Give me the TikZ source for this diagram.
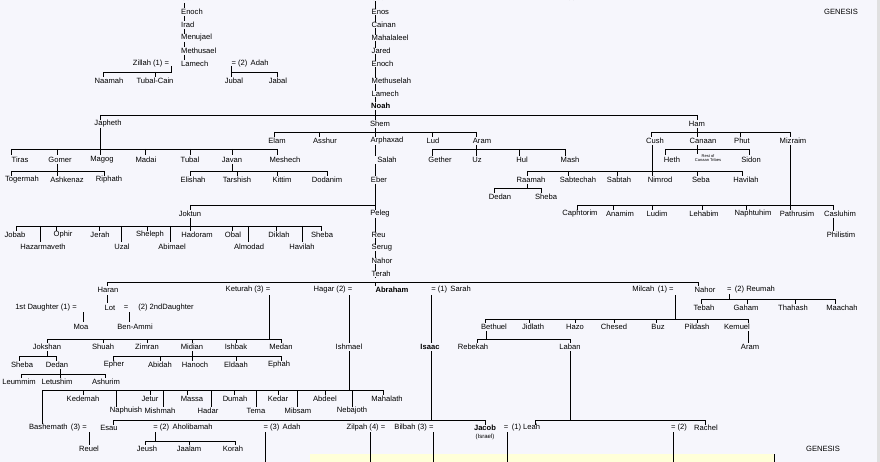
\documentclass[tikz,border=0pt]{standalone}
\usepackage{fontspec}
\setmainfont{Liberation Sans}
\definecolor{pagebg}{HTML}{F6F6FC}
\definecolor{band}{HTML}{FFFFD8}
\tikzset{
  nm/.style={font=\fontsize{7.6}{8}\selectfont, inner sep=0pt},
  bold/.style={nm, font=\fontsize{7.6}{8}\selectfont\bfseries},
  ln/.style={line width=0.8pt}
}
% a bar at height #1 from #2 to #3
\newcommand{\famBar}[3]{\draw[ln] (#2,#1) -- (#3,#1);}
\begin{document}
\begin{tikzpicture}[x=1pt,y=-1pt]
  \useasboundingbox (0,0) rectangle (880,462);
  \fill[pagebg] (0,0) rectangle (880,462);
  \fill[black!12] (877,0) rectangle (880,462);
  \fill[band] (310,454) rectangle (774,462);
  \draw[ln] (774,454) -- (774,462);

  \node[nm] (gen1) at (841,12) {GENESIS};
  \node[nm] (gen2) at (823,449) {GENESIS};
  \node[nm] (abel) at (570,-2) {Abel};

  % Cain line
  \node[nm,anchor=west] (cain) at (181,-2) {Cain};
  \foreach \y/\t in {12/Enoch,25/Irad,38/Menujael,51/Methusael,64/Lamech}
    \node[nm,anchor=west] (c\y) at (181,\y) {\t};
  \draw[ln] (184,3) -- (184,8) (184,16) -- (184,21) (184,29) -- (184,34) (184,42) -- (184,47) (184,55) -- (184,60);
  \node[nm] (zillah) at (151,64) {Zillah (1) =};
  \node[nm] (adah) at (250,64) {= (2)\, Adah};
  \draw[ln] (171,66) -- (171,72) -- (103,72) -- (103,77);
  \node[nm] (naamah) at (109,81) {Naamah};
  \node[nm] (tubalcain) at (155,81) {Tubal-Cain};
  \draw[ln] (155,72) -- (155,77);
  \draw[ln] (231,66) -- (231,77) (231,72) -- (277,72) -- (277,77);
  \node[nm] (jubal) at (234,81) {Jubal};
  \node[nm] (jabal) at (278,81) {Jabal};

  % Seth line
  \draw[ln] (375,0) -- (375,102);
  \node[nm,anchor=west,fill=pagebg,inner xsep=0.5pt] (seth) at (371,-2) {Seth};
  \foreach \y/\t in {12/Enos,25/Cainan,38/Mahalaleel,51/Jared,64/Enoch,81/Methuselah,94/Lamech}
    \node[nm,anchor=west,fill=pagebg,inner xsep=0.5pt] (s\y) at (371,\y) {\t};
  \node[bold,anchor=west] (noah) at (371,106) {Noah};

  % Noah's sons
  \famBar{115}{100}{697}
  \draw[ln] (375,110) -- (375,120) (100,115) -- (100,120) (697,115) -- (697,120);
  \node[nm] (japheth) at (108,124) {Japheth};
  \node[nm] (shem) at (380,124) {Shem};
  \node[nm] (ham) at (697,124) {Ham};

  % Japheth
  \draw[ln] (100,128) -- (100,149);
  \famBar{149}{11}{277}
  \foreach \x/\t/\c in {11/Tiras/20,57/Gomer/60,100/Magog/102,145/Madai/146,190/Tubal/190,232/Javan/232,277/Meshech/285}{
    \draw[ln] (\x,149) -- (\x,155);
    \node[nm] (j\x) at (\c,160) {\t};}
  \famBar{171}{11}{104}
  \draw[ln] (57,164) -- (57,171);
  \foreach \x/\t/\c in {11/Togermah/22,57/Ashkenaz/67,104/Riphath/109}{
    \draw[ln] (\x,171) -- (\x,176);
    \node[nm] (g\x) at (\c,180) {\t};}
  \famBar{171}{190}{327}
  \draw[ln] (232,164) -- (232,171);
  \foreach \x/\t/\c in {190/Elishah/193,237/Tarshish/237,277/Kittim/282,327/Dodanim/327}{
    \draw[ln] (\x,171) -- (\x,176);
    \node[nm] (v\x) at (\c,180) {\t};}

  % Shem
  \draw[ln] (375,128) -- (375,137);
  \famBar{132}{274}{476}
  \foreach \x/\t/\c in {274/Elam/277,319/Asshur/325,432/Lud/433,476/Aram/482}{
    \draw[ln] (\x,132) -- (\x,137);
    \node[nm] (sh\x) at (\c,141) {\t};}
  \node[nm] (arphaxad) at (387,141) {Arphaxad};
  \famBar{149}{432}{565}
  \draw[ln] (476,145) -- (476,156);
  \foreach \x/\t/\c in {432/Gether/440,476/Uz/477,519/Hul/522,565/Mash/570}{
    \draw[ln] (\x,149) -- (\x,156);
    \node[nm] (a\x) at (\c,160) {\t};}
  \draw[ln] (375,145) -- (375,156) (375,164) -- (375,176) (375,184) -- (375,205);
  \node[nm] (salah) at (387,160) {Salah};
  \node[nm] (eber) at (379,180) {Eber};

  % Ham
  \draw[ln] (697,128) -- (697,137);
  \famBar{132}{651}{790}
  \foreach \x/\t/\c in {651/Cush/655,740/Phut/742,790/Mizraim/793}{
    \draw[ln] (\x,132) -- (\x,137);
    \node[nm] (h\x) at (\c,141) {\t};}
  \node[nm] (canaan) at (703,141) {Canaan};
  \famBar{149}{665}{749}
  \draw[ln] (697,145) -- (697,154) (665,149) -- (665,155) (749,149) -- (749,155);
  \node[nm] (heth) at (672,160) {Heth};
  \node[nm,font=\fontsize{4}{4.5}\selectfont,align=center] (rest) at (708,158) {Rest of\\Canaan Tribes};
  \node[nm] (sidon) at (751,160) {Sidon};
  \draw[ln] (652,145) -- (652,176);
  \famBar{171}{527}{742}
  \foreach \x/\t/\c in {527/Raamah/531,568/Sabtechah/578,617/Sabtah/619,652/Nimrod/660,697/Seba/701,742/Havilah/746}{
    \draw[ln] (\x,171) -- (\x,176);
    \node[nm] (cu\x) at (\c,180) {\t};}
  \famBar{188}{494}{541}
  \draw[ln] (527,184) -- (527,188) (494,188) -- (494,193) (541,188) -- (541,193);
  \node[nm] (dedan1) at (500,197) {Dedan};
  \node[nm] (sheba1) at (546,197) {Sheba};
  \draw[ln] (790,145) -- (790,205);
  \famBar{205}{577}{833}
  \foreach \x/\t/\c in {577/Caphtorim/580,613/Anamim/620,652/Ludim/657,702/Lehabim/704,746/Naphtuhim/753,790/Pathrusim/797,833/Casluhim/840}{
    \draw[ln] (\x,205) -- (\x,210);
    \node[nm] (m\x) at (\c,214) {\t};}
  \draw[ln] (833,218) -- (833,231);
  \node[nm] (philistim) at (841,235) {Philistim};

  % Eber
  \famBar{205}{190}{375}
  \draw[ln] (190,205) -- (190,210) (375,205) -- (375,210);
  \node[nm] (joktun) at (190,214) {Joktun};
  \node[nm] (peleg) at (380,214) {Peleg};
  \draw[ln] (190,218) -- (190,226);
  \famBar{226}{16}{321}
  \foreach \x/\t/\c in {16/Jobab/15,56/Ophir/63,99/Jerah/100,147/Sheleph/150,190/Hadoram/197,232/Obal/233,276/Diklah/279,321/Sheba/322}{
    \draw[ln] (\x,226) -- (\x,231);
    \node[nm] (k\x) at (\c,235) {\t};}
  \foreach \x/\t/\c in {40/Hazarmaveth/43,121/Uzal/122,170/Abimael/172,248/Almodad/249,302/Havilah/302}{
    \draw[ln] (\x,226) -- (\x,242);
    \node[nm] (k\x) at (\c,247) {\t};}
  \draw[ln] (375,218) -- (375,278);
  \foreach \y/\t in {235/Reu,248/Serug,261/Nahor,274/Terah}
    \node[nm,anchor=west,fill=pagebg,inner xsep=0.5pt] (p\y) at (371,\y) {\t};

  % Terah
  \famBar{282}{107}{698}
  \draw[ln] (107,282) -- (107,286) (375,282) -- (375,286) (698,282) -- (698,286);
  \node[nm] (haran) at (108,290) {Haran};
  \node[nm] (keturah) at (248,290) {Keturah (3) =};
  \node[nm] (hagar) at (333,290) {Hagar (2) =};
  \node[bold] (abraham) at (392,290) {Abraham};
  \node[nm] (sarah) at (451,290) {= (1)\, Sarah};
  \node[nm] (milcah) at (653,290) {Milcah\, (1) =};
  \node[nm] (nahor2) at (705,290) {Nahor};
  \node[nm] (reumah) at (751,290) {= \,(2) Reumah};
  \draw[ln] (107,295) -- (107,303);
  \node[nm] (dau1) at (46,308) {1st Daughter (1) =};
  \node[nm] (lot) at (110,308) {Lot};
  \node[nm] (loteq) at (126,308) {=};
  \node[nm] (dau2) at (166,308) {(2) 2ndDaughter};
  \draw[ln] (83,312) -- (83,322) (129,312) -- (129,322);
  \node[nm] (moa) at (81,327) {Moa};
  \node[nm] (benammi) at (135,327) {Ben-Ammi};

  % Nahor and Reumah
  \famBar{299}{701}{835}
  \draw[ln] (729,294) -- (729,299);
  \foreach \x/\t/\c in {701/Tebah/704,747/Gaham/746,795/Thahash/793,835/Maachah/842}{
    \draw[ln] (\x,299) -- (\x,304);
    \node[nm] (r\x) at (\c,308) {\t};}
  \draw[ln] (675,295) -- (675,319);
  \famBar{319}{485}{748}
  \foreach \x/\t/\c in {485/Bethuel/494,529/Jidlath/533,575/Hazo/575,614/Chesed/614,656/Buz/658,697/Pildash/697,748/Kemuel/737}{
    \draw[ln] (\x,319) -- (\x,323);
    \node[nm] (b\x) at (\c,327) {\t};}
  \draw[ln] (748,331) -- (748,343);
  \node[nm] (aram2) at (750,347) {Aram};
  \draw[ln] (486,331) -- (486,339);
  \famBar{339}{477}{570}
  \draw[ln] (477,339) -- (477,343) (570,339) -- (570,343);
  \node[nm] (rebekah) at (473,347) {Rebekah};
  \node[nm] (laban) at (570,347) {Laban};
  \draw[ln] (570,351) -- (570,420);
  \famBar{420}{535}{705}
  \draw[ln] (535,420) -- (535,425) (705,420) -- (705,425);

  % Keturah
  \draw[ln] (269,295) -- (269,339);
  \famBar{339}{47}{281}
  \foreach \x/\t/\c in {47/Jokshan/47,103/Shuah/103,147/Zimran/147,192/Midian/192,236/Ishbak/236,281/Medan/281}{
    \draw[ln] (\x,339) -- (\x,343);
    \node[nm] (ke\x) at (\c,347) {\t};}
  \famBar{356}{19}{56}
  \draw[ln] (47,351) -- (47,356) (19,356) -- (19,361) (56,356) -- (56,361);
  \node[nm] (sheba2) at (22,365) {Sheba};
  \node[nm] (dedan2) at (57,365) {Dedan};
  \famBar{374}{21}{105}
  \draw[ln] (60,369) -- (60,378) (21,374) -- (21,378) (105,374) -- (105,378);
  \node[nm] (leummim) at (19,382) {Leummim};
  \node[nm] (letushim) at (57,382) {Letushim};
  \node[nm] (ashurim) at (106,382) {Ashurim};
  \famBar{356}{113}{281}
  \draw[ln] (192,351) -- (192,356);
  \foreach \x/\t/\c in {113/Epher/114,160/Abidah/160,192/Hanoch/195,236/Eldaah/236,281/Ephah/279}{
    \draw[ln] (\x,356) -- (\x,361);
    \node[nm] (mi\x) at (\c,365) {\t};}

  % Hagar
  \draw[ln] (349,295) -- (349,343) (349,351) -- (349,390);
  \node[nm] (ishmael) at (349,347) {Ishmael};
  \famBar{390}{42}{383}
  \foreach \x/\t/\c in {83/Kedemah/83,150/Jetur/150,187/Massa/192,234/Dumah/235,278/Kedar/278,325/Abdeel/325,383/Mahalath/387}{
    \draw[ln] (\x,390) -- (\x,395);
    \node[nm] (i\x) at (\c,399) {\t};}
  \foreach \x/\t/\c in {116/Naphuish/126,163/Mishmah/160,211/Hadar/208,256/Tema/256,297/Mibsam/298,352/Nebajoth/352}{
    \draw[ln] (\x,390) -- (\x,407);
    \node[nm] (i\x) at (\c,411) {\t};}
  \draw[ln] (42,390) -- (42,424);

  % Sarah and Isaac
  \draw[ln] (431,295) -- (431,343) (431,351) -- (431,420);
  \node[bold] (isaac) at (430,347) {Isaac};
  \famBar{420}{113}{485}
  \draw[ln] (113,420) -- (113,425) (485,420) -- (485,425);
  \node[nm] (bashemath) at (58,428) {Bashemath\, (3) =};
  \node[nm] (esau) at (109,428) {Esau};
  \node[nm] (aholibamah) at (183,428) {= (2)\, Aholibamah};
  \node[nm] (adah2) at (282,428) {= (3)\, Adah};
  \node[nm] (zilpah) at (366,428) {Zilpah (4) =};
  \node[nm] (bilbah) at (414,428) {Bilbah (3) =};
  \node[bold] (jacob) at (485,428) {Jacob};
  \node[nm,font=\fontsize{6}{7}\selectfont] (israel) at (485,437) {(Israel)};
  \node[nm] (leah) at (522,428) {= \,(1) Leah};
  \node[nm] (eq2) at (679,428) {= (2)};
  \node[nm] (rachel) at (706,428) {Rachel};
  \draw[ln] (89,432) -- (89,445);
  \node[nm] (reuel) at (89,449) {Reuel};
  \draw[ln] (155,432) -- (155,441);
  \famBar{441}{145}{235}
  \foreach \x/\t/\c in {145/Jeush/147,189/Jaalam/189,235/Korah/233}{
    \draw[ln] (\x,441) -- (\x,445);
    \node[nm] (ah\x) at (\c,449) {\t};}
  \draw[ln] (265,432) -- (265,462) (370,432) -- (370,462) (433,432) -- (433,462)
    (507,432) -- (507,462) (673,432) -- (673,462);
\end{tikzpicture}
\end{document}
